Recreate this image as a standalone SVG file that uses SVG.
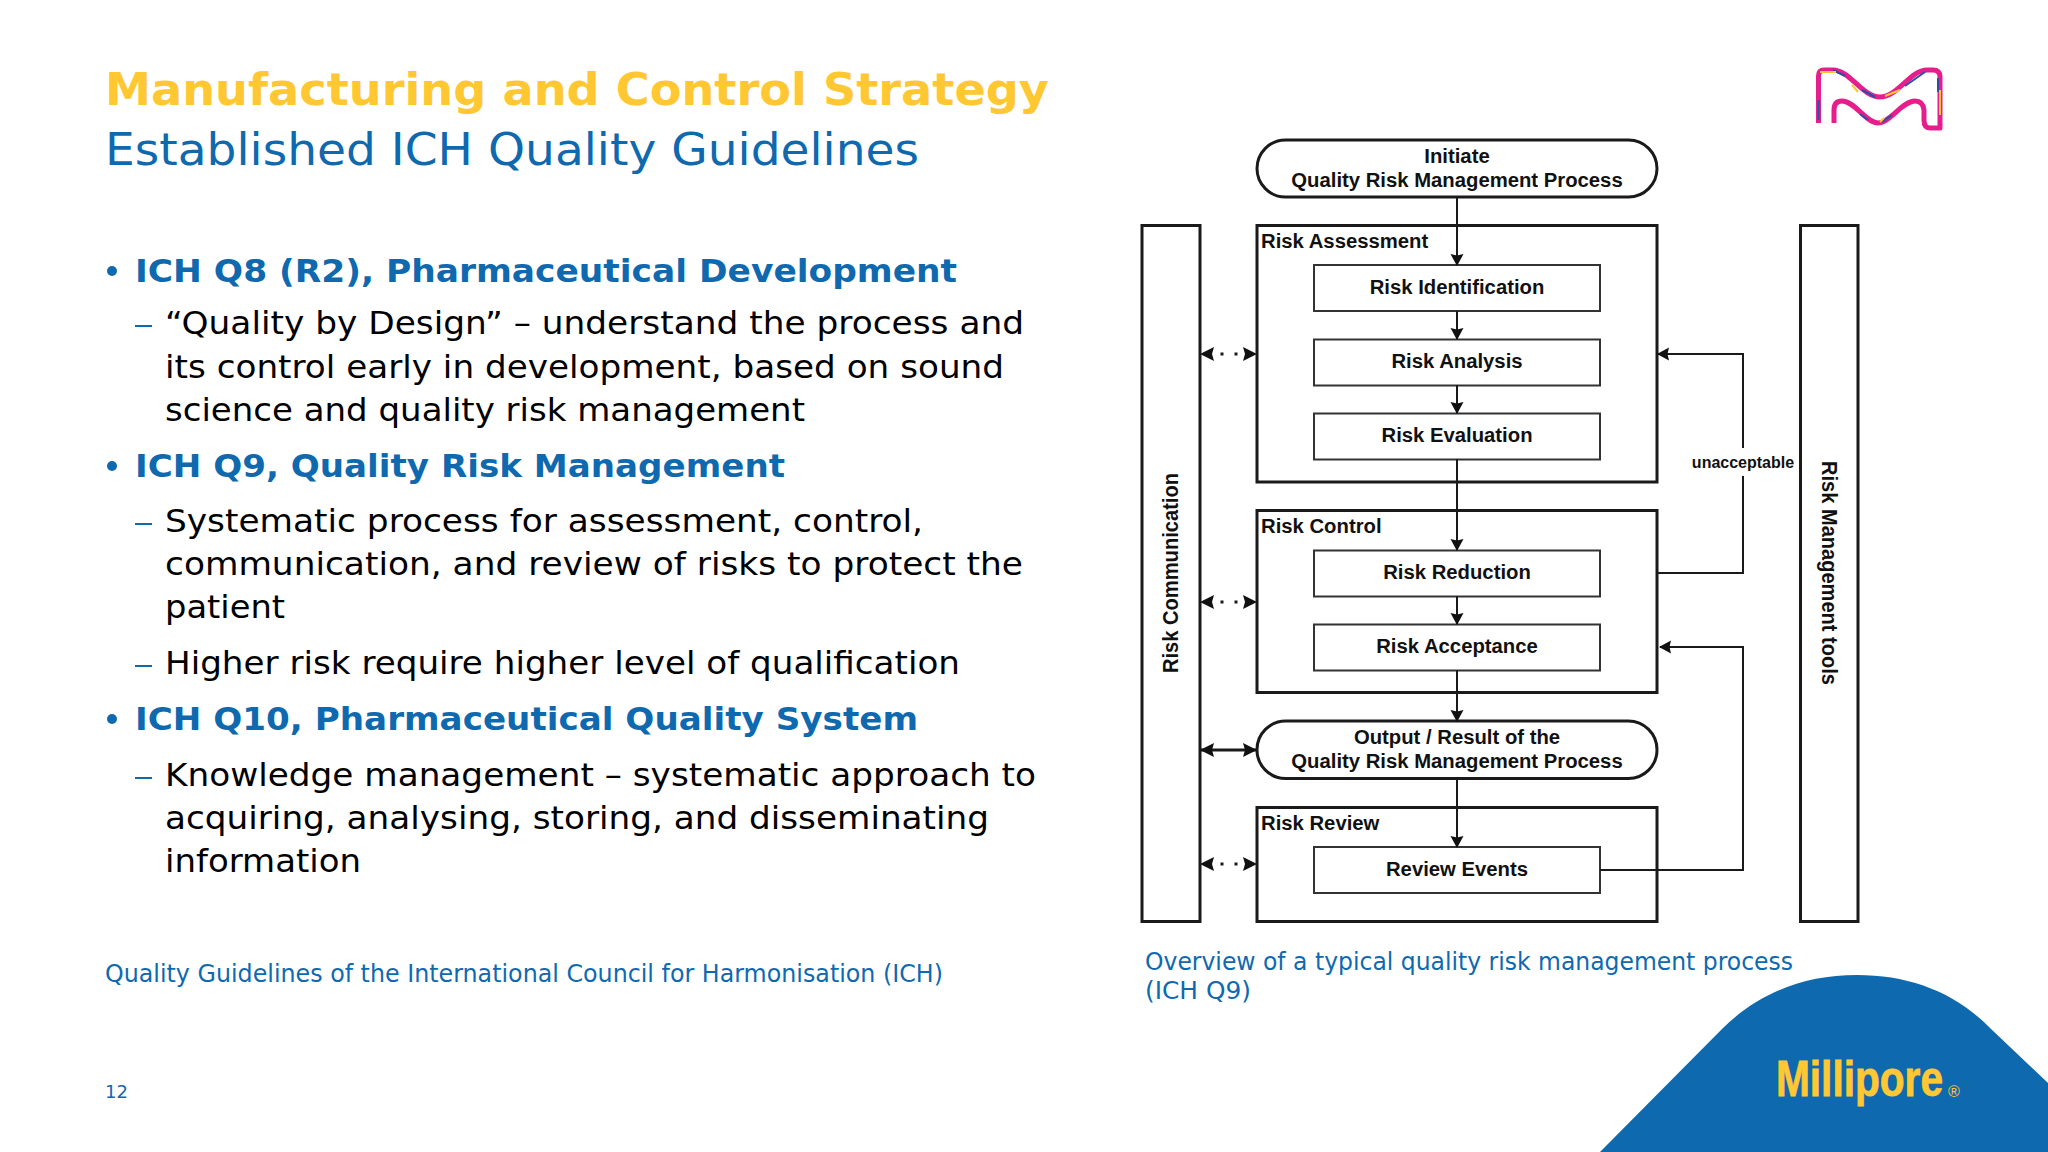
<svg xmlns="http://www.w3.org/2000/svg" width="2048" height="1152" viewBox="0 0 2048 1152">
<style>
.s{font-family:"DejaVu Sans","Liberation Sans",sans-serif}
.b{fill:#0f69af}
.h{font-size:32px;font-weight:700;fill:#0f69af}
.t{font-size:32px;fill:#000}
.d{font-size:24.5px;fill:#0f69af}
.n{font-family:"Liberation Sans",Arial,sans-serif;font-weight:700;font-size:20.3px;fill:#111}
.v{font-size:21.5px}
.m{text-anchor:middle}
.box{fill:#fff;stroke:#1a1a1a;stroke-width:3}
.in{fill:#fff;stroke:#333;stroke-width:2}
.c{fill:none;stroke:#1a1a1a;stroke-width:2}
.w{stroke-width:3}
.dot{stroke-dasharray:3 11;stroke-dashoffset:-5.5}
.lg{fill:none;stroke-linejoin:round;stroke-linecap:butt}
</style>
<defs>
<marker id="a" markerUnits="userSpaceOnUse" markerWidth="14" markerHeight="16" refX="11" refY="7" orient="auto-start-reverse"><path d="M0,0.5L12,7L0,13.5L1.5,7Z" fill="#111"/></marker>
<marker id="e" markerUnits="userSpaceOnUse" markerWidth="16" markerHeight="16" refX="13" refY="7" orient="auto-start-reverse"><path d="M0,0L14,7L0,14L2,7Z" fill="#111"/></marker>
</defs>
<rect width="2048" height="1152" fill="#fff"/>

<g class="s">
<text x="105" y="105" font-size="44" font-weight="700" fill="#ffc832" textLength="944" lengthAdjust="spacingAndGlyphs">Manufacturing and Control Strategy</text>
<text x="105" y="165" font-size="45" fill="#0f69af" textLength="814" lengthAdjust="spacingAndGlyphs">Established ICH Quality Guidelines</text>
<circle class="b" cx="112" cy="271" r="5"/>
<text class="h" x="135" y="282" textLength="822" lengthAdjust="spacingAndGlyphs">ICH Q8 (R2), Pharmaceutical Development</text>
<rect class="b" x="135" y="325" width="17" height="2"/>
<text class="t" x="165" y="334" textLength="859" lengthAdjust="spacingAndGlyphs">“Quality by Design” – understand the process and</text>
<text class="t" x="165" y="378" textLength="839" lengthAdjust="spacingAndGlyphs">its control early in development, based on sound</text>
<text class="t" x="165" y="421" textLength="640" lengthAdjust="spacingAndGlyphs">science and quality risk management</text>
<circle class="b" cx="112" cy="466" r="5"/>
<text class="h" x="135" y="476.5" textLength="650" lengthAdjust="spacingAndGlyphs">ICH Q9, Quality Risk Management</text>
<rect class="b" x="135" y="523" width="17" height="2"/>
<text class="t" x="165" y="532" textLength="758" lengthAdjust="spacingAndGlyphs">Systematic process for assessment, control,</text>
<text class="t" x="165" y="575" textLength="858" lengthAdjust="spacingAndGlyphs">communication, and review of risks to protect the</text>
<text class="t" x="165" y="618" textLength="120" lengthAdjust="spacingAndGlyphs">patient</text>
<rect class="b" x="135" y="665" width="17" height="2"/>
<text class="t" x="165" y="674" textLength="795" lengthAdjust="spacingAndGlyphs">Higher risk require higher level of qualification</text>
<circle class="b" cx="112" cy="719" r="5"/>
<text class="h" x="135" y="730" textLength="783" lengthAdjust="spacingAndGlyphs">ICH Q10, Pharmaceutical Quality System</text>
<rect class="b" x="135" y="777" width="17" height="2"/>
<text class="t" x="165" y="786" textLength="871" lengthAdjust="spacingAndGlyphs">Knowledge management – systematic approach to</text>
<text class="t" x="165" y="829" textLength="824" lengthAdjust="spacingAndGlyphs">acquiring, analysing, storing, and disseminating</text>
<text class="t" x="165" y="872" textLength="196" lengthAdjust="spacingAndGlyphs">information</text>
<text class="d" x="105" y="982" textLength="838" lengthAdjust="spacingAndGlyphs">Quality Guidelines of the International Council for Harmonisation (ICH)</text>
<text class="d" x="1145" y="970" textLength="648" lengthAdjust="spacingAndGlyphs">Overview of a typical quality risk management process</text>
<text class="d" x="1145" y="999" textLength="106" lengthAdjust="spacingAndGlyphs">(ICH Q9)</text>
<text x="105" y="1098" font-size="18" fill="#0f69af">12</text>
</g>

<g id="logo-m" class="lg">
<path d="M1818.5,123V76Q1818.5,70 1824,70H1833C1850,70 1862,97 1880,97C1898,97 1910,70 1927,70H1933Q1940,70 1940,77V128H1930Q1924,128 1924,120V110Q1923,101 1915,101C1902,101 1890,123 1878,123C1866,123 1855,101 1842,101Q1834,101 1834,110V123" stroke="#e61e8c" stroke-width="5"/>
<path d="M1818.5,120V100M1833,70L1845,76M1905,86L1925,72M1938,78V92M1862,90L1875,97M1860,114L1868,120M1882,122L1892,115" stroke="#2b4fa8" stroke-width="2"/>
<path d="M1940,90V115M1820,72H1836M1852,85L1858,92M1885,96L1900,90M1880,122L1884,118" stroke="#ffc832" stroke-width="2"/>
</g>

<g id="initiate"><rect class="box" x="1257" y="140" width="400" height="57" rx="28.5"/><text class="n m" x="1457" y="163">Initiate</text><text class="n m" x="1457" y="187">Quality Risk Management Process</text></g>
<g id="risk-communication"><rect class="box" x="1142" y="225.5" width="58" height="696"/><text class="n v" transform="translate(1178,673) rotate(-90)" textLength="200" lengthAdjust="spacingAndGlyphs">Risk Communication</text></g>
<g id="risk-management-tools"><rect class="box" x="1800.5" y="225.5" width="57.5" height="696"/><text class="n v" transform="translate(1821.5,461) rotate(90)" textLength="224" lengthAdjust="spacingAndGlyphs">Risk Management tools</text></g>
<g id="risk-assessment"><rect class="box" x="1257" y="225.5" width="400" height="256.5"/><text class="n" x="1261" y="248">Risk Assessment</text></g>
<g id="risk-identification"><rect class="in" x="1314" y="265" width="286" height="46"/><text class="n m" x="1457" y="294">Risk Identification</text></g>
<g id="risk-analysis"><rect class="in" x="1314" y="339.5" width="286" height="46"/><text class="n m" x="1457" y="368">Risk Analysis</text></g>
<g id="risk-evaluation"><rect class="in" x="1314" y="413.5" width="286" height="46"/><text class="n m" x="1457" y="442">Risk Evaluation</text></g>
<g id="risk-control"><rect class="box" x="1257" y="510.5" width="400" height="182"/><text class="n" x="1261" y="533">Risk Control</text></g>
<g id="risk-reduction"><rect class="in" x="1314" y="550.5" width="286" height="46"/><text class="n m" x="1457" y="579">Risk Reduction</text></g>
<g id="risk-acceptance"><rect class="in" x="1314" y="624.5" width="286" height="46"/><text class="n m" x="1457" y="653">Risk Acceptance</text></g>
<g id="output"><rect class="box" x="1257" y="721" width="400" height="57.5" rx="28.7"/><text class="n m" x="1457" y="744">Output / Result of the</text><text class="n m" x="1457" y="768">Quality Risk Management Process</text></g>
<g id="risk-review"><rect class="box" x="1257" y="807.5" width="400" height="114"/><text class="n" x="1261" y="830">Risk Review</text></g>
<g id="review-events"><rect class="in" x="1314" y="847" width="286" height="46"/><text class="n m" x="1457" y="876">Review Events</text></g>

<g id="connectors" class="c">
<path marker-end="url(#a)" d="M1457,197V265"/>
<path marker-end="url(#a)" d="M1457,311V339"/>
<path marker-end="url(#a)" d="M1457,385V413"/>
<path marker-end="url(#a)" d="M1457,459V550"/>
<path marker-end="url(#a)" d="M1457,596V624"/>
<path marker-end="url(#a)" d="M1457,670V721"/>
<path marker-end="url(#a)" d="M1457,778V847"/>
<path d="M1657,573H1743V476"/>
<path marker-end="url(#a)" d="M1743,448V354H1658"/>
<path marker-end="url(#a)" d="M1600,870H1743V647H1660"/>
<path class="w dot" marker-start="url(#e)" marker-end="url(#e)" d="M1201,354H1256"/>
<path class="w dot" marker-start="url(#e)" marker-end="url(#e)" d="M1201,602H1256"/>
<path class="w" marker-start="url(#e)" marker-end="url(#e)" d="M1201,750H1256"/>
<path class="w dot" marker-start="url(#e)" marker-end="url(#e)" d="M1201,864H1256"/>
</g>
<text class="n m" x="1743" y="468" style="font-size:16px">unacceptable</text>

<g id="brand">
<path d="M1600,1152L1723,1028C1760,992 1805,975 1857,975C1909,975 1955,992 1990,1028L2048,1083V1152Z" fill="#0f69af"/>
<text x="1776" y="1096" font-family="Liberation Sans,sans-serif" font-weight="700" font-size="50" fill="#ffc832" stroke="#ffc832" stroke-width="0.8" textLength="167" lengthAdjust="spacingAndGlyphs">Millipore</text>
<text x="1948" y="1097" font-family="Liberation Sans,sans-serif" font-size="16" fill="#ffc832">®</text>
</g>
</svg>
